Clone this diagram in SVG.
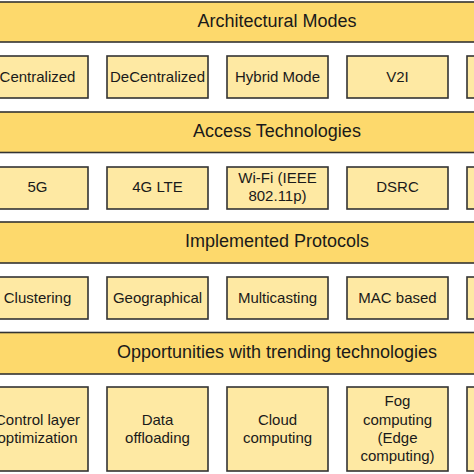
<svg xmlns="http://www.w3.org/2000/svg" width="474" height="474" viewBox="0 0 474 474">
<style>
.band{fill:#FDD96C;stroke:#333;stroke-width:1.6}
.box{fill:#FEE9A3;stroke:#333;stroke-width:1.6}
.bt{font-family:"Liberation Sans",Arial,sans-serif;font-size:18px;fill:#1a1a1a;text-anchor:middle}
.t{font-family:"Liberation Sans",Arial,sans-serif;font-size:15px;fill:#1a1a1a;text-anchor:middle}
</style>
<rect width="474" height="474" fill="#fff"/>
<g id="band-arch"><rect class="band" x="-10" y="2" width="500" height="40"/><text class="bt" x="277" y="26.5">Architectural Modes</text></g>
<g id="n-centralized"><rect class="box" x="-13" y="56" width="101" height="42"/><text class="t" x="37.5" y="81.5">Centralized</text></g>
<g id="n-decentralized"><rect class="box" x="107" y="56" width="101" height="42"/><text class="t" x="157.5" y="81.5">DeCentralized</text></g>
<g id="n-hybrid"><rect class="box" x="227" y="56" width="101" height="42"/><text class="t" x="277.5" y="81.5">Hybrid Mode</text></g>
<g id="n-v2i"><rect class="box" x="347" y="56" width="101" height="42"/><text class="t" x="397.5" y="81.5">V2I</text></g>
<g id="n-r1-5"><rect class="box" x="467" y="56" width="101" height="42"/></g>

<g id="band-access"><rect class="band" x="-10" y="112" width="500" height="40.5"/><text class="bt" x="277" y="136.5">Access Technologies</text></g>
<g id="n-5g"><rect class="box" x="-13" y="167" width="101" height="42"/><text class="t" x="37.5" y="192">5G</text></g>
<g id="n-4g"><rect class="box" x="107" y="167" width="101" height="42"/><text class="t" x="157.5" y="192">4G LTE</text></g>
<g id="n-wifi"><rect class="box" x="227" y="167" width="101" height="42"/><text class="t" x="277.5" y="182.5">Wi-Fi (IEEE</text><text class="t" x="277.5" y="200.5">802.11p)</text></g>
<g id="n-dsrc"><rect class="box" x="347" y="167" width="101" height="42"/><text class="t" x="397.5" y="192">DSRC</text></g>
<g id="n-r2-5"><rect class="box" x="467" y="167" width="101" height="42"/></g>

<g id="band-proto"><rect class="band" x="-10" y="222" width="500" height="41"/><text class="bt" x="277" y="247">Implemented Protocols</text></g>
<g id="n-clustering"><rect class="box" x="-13" y="277" width="101" height="42"/><text class="t" x="37.5" y="302.5">Clustering</text></g>
<g id="n-geo"><rect class="box" x="107" y="277" width="101" height="42"/><text class="t" x="157.5" y="302.5">Geographical</text></g>
<g id="n-multi"><rect class="box" x="227" y="277" width="101" height="42"/><text class="t" x="277.5" y="302.5">Multicasting</text></g>
<g id="n-mac"><rect class="box" x="347" y="277" width="101" height="42"/><text class="t" x="397.5" y="302.5">MAC based</text></g>
<g id="n-r3-5"><rect class="box" x="467" y="277" width="101" height="42"/></g>

<g id="band-opp"><rect class="band" x="-10" y="332.5" width="500" height="41.5"/><text class="bt" x="277" y="358">Opportunities with trending technologies</text></g>
<g id="n-control"><rect class="box" x="-13" y="387" width="101" height="84"/><text class="t" x="37.5" y="424.5">Control layer</text><text class="t" x="37.5" y="442.5">optimization</text></g>
<g id="n-data"><rect class="box" x="107" y="387" width="101" height="84"/><text class="t" x="157.5" y="424.5">Data</text><text class="t" x="157.5" y="442.5">offloading</text></g>
<g id="n-cloud"><rect class="box" x="227" y="387" width="101" height="84"/><text class="t" x="277.5" y="424.5">Cloud</text><text class="t" x="277.5" y="442.5">computing</text></g>
<g id="n-fog"><rect class="box" x="347" y="387" width="101" height="84"/><text class="t" x="397.5" y="406">Fog</text><text class="t" x="397.5" y="424.5">computing</text><text class="t" x="397.5" y="442.5">(Edge</text><text class="t" x="397.5" y="460.5">computing)</text></g>
<g id="n-r4-5"><rect class="box" x="467" y="387" width="101" height="84"/></g>
<g id="connectors"></g>
</svg>
